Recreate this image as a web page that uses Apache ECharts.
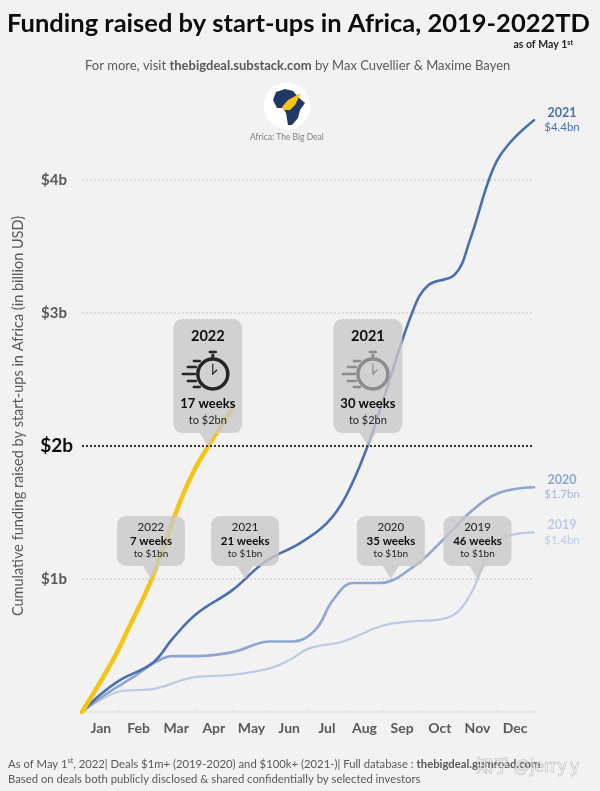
<!DOCTYPE html>
<html>
<head>
<meta charset="utf-8">
<script src="https://cdn.jsdelivr.net/npm/echarts@6/dist/echarts.min.js"></script>
<style>
html, body { margin: 0; padding: 0; background: #f2f2f2; }
#container { width: 600px; height: 791px; }
</style>
</head>
<body>
<div id="container"></div>
<script>
let months = ['Jan', 'Feb', 'Mar', 'Apr', 'May', 'Jun', 'Jul', 'Aug', 'Sep', 'Oct', 'Nov', 'Dec'];
let yTicks = { 1: '$1b', 2: '$2b', 3: '$3b', 4: '$4b' };

// x is in months since Jan 1st, y in billion USD
let x2019 = [0, .48, 1.09, 1.81, 2.95, 4.01, 4.99, 5.5, 6.05, 6.93, 7.99, 8.71, 9.58, 10, 10.38, 10.75, 11.18, 12];
let y2019 = [0, .09, .16, .17, .26, .28, .33, .39, .48, .53, .65, .68, .7, .76, .92, 1.17, 1.31, 1.35];
let x2020 = [0, .61, 1.35, 1.99, 2.4, 3, 4, 5, 5.6, 6.2, 6.66, 7.2, 7.9, 8.79, 9.5, 10.38, 11.1, 12];
let y2020 = [0, .13, .26, .38, .42, .42, .45, .53, .53, .62, .84, .97, .97, 1.09, 1.27, 1.52, 1.65, 1.69];
let x2021 = [0, .48, 1.01, 1.88, 2.4, 3.05, 4.01, 4.86, 5.79, 6.5, 7, 7.57, 8, 8.79, 9.2, 9.9, 10.3, 10.91, 11.36, 12];
let y2021 = [0, .13, .24, .37, .55, .74, .92, 1.13, 1.27, 1.42, 1.62, 1.99, 2.35, 3.02, 3.21, 3.29, 3.55, 4.08, 4.28, 4.45];
let x2022 = [0, .82, 1.27, 1.85, 2.52, 2.95, 3.4, 4.01];
let y2022 = [0, .39, .65, 1, 1.52, 1.8, 2.02, 2.29];

let bigCallouts = [
    { year: '2022', weeks: '17 weeks', note: 'to $2bn', x: 3.34, y: 2, icon: '#262626' },
    { year: '2021', weeks: '30 weeks', note: 'to $2bn', x: 7.59, y: 2, icon: '#8c8c8c' },
];
let smallCallouts = [
    { year: '2022', weeks: '7 weeks', note: 'to $1bn', x: 1.83, y: 1 },
    { year: '2021', weeks: '21 weeks', note: 'to $1bn', x: 4.33, y: 1 },
    { year: '2020', weeks: '35 weeks', note: 'to $1bn', x: 8.2, y: 1 },
    { year: '2019', weeks: '46 weeks', note: 'to $1bn', x: 10.5, y: 1 },
];

let font = 'Lato';
let grey = '#595959';
let boxFill = 'rgba(200,200,200,0.8)';

function zip(xs, ys) {
    return xs.map((x, i) => [x, ys[i]]);
}

function lineSeries(name, xs, ys, color, width, total, nameColor, valueColor) {
    return {
        name: name,
        type: 'line',
        xAxisIndex: 0,
        smooth: 0.4,
        showSymbol: false,
        symbol: 'none',
        animation: false,
        lineStyle: { color: color, width: width, cap: 'round' },
        data: zip(xs, ys),
        endLabel: total ? {
            show: true,
            distance: 11,
            formatter: '{a|' + name + '}\n{b|' + total + '}',
            rich: {
                a: { fontFamily: font, fontWeight: 'bold', fontSize: 12.5, color: nameColor, width: 34, align: 'center', lineHeight: 15 },
                b: { fontFamily: font, fontSize: 11.5, color: valueColor, width: 34, align: 'center', lineHeight: 15 },
            },
        } : { show: false },
    };
}

let chart = echarts.init(document.getElementById('container'));

let series = [
    lineSeries('2019', x2019, y2019, '#bccbe5', 2.2, '$1.4bn', '#bccbe5', '#bccbe5'),
    lineSeries('2020', x2020, y2020, '#8fa6d1', 2.6, '$1.7bn', '#8fa6d1', '#a3b5d8'),
    lineSeries('2021', x2021, y2021, '#4a6fae', 2.6, '$4.4bn', '#4a6fae', '#4a6fae'),
    lineSeries('2022', x2022, y2022, '#f6c416', 4.5),
];
series[3].markLine = {
    silent: true,
    symbol: 'none',
    animation: false,
    label: { show: false },
    lineStyle: { color: '#333333', type: [2, 2], width: 2 },
    data: [{ yAxis: 2 }],
};

let option = {
    backgroundColor: '#f2f2f2',
    title: [
        {
            text: 'Funding raised by start-ups in Africa, 2019-2022TD',
            left: 7, top: 11, padding: 0,
            textStyle: { fontFamily: font, fontWeight: 'bold', fontSize: 25.5, color: '#0d0d0d' },
        },
        {
            text: 'as of May 1{s|st}',
            right: 27, top: 39, padding: 0,
            textStyle: {
                fontFamily: font, fontWeight: 'bold', fontSize: 10.5, color: '#262626',
                rich: { s: { fontSize: 7, fontWeight: 'bold', fontFamily: font, verticalAlign: 'top', color: '#262626' } },
            },
        },
        {
            text: 'For more, visit {b|thebigdeal.substack.com} by Max Cuvellier & Maxime Bayen',
            left: 85, top: 59, padding: 0,
            textStyle: {
                fontFamily: font, fontSize: 13, fontWeight: 'normal', color: grey,
                rich: { b: { fontFamily: font, fontSize: 13, fontWeight: 'bold', color: grey } },
            },
        },
        {
            text: 'Africa: The Big Deal',
            left: 250, top: 133, padding: 0,
            textStyle: { fontFamily: font, fontSize: 8.5, fontWeight: 'normal', color: '#7f7f7f' },
        },
        {
            text: 'As of May 1{s|st}, 2022| Deals $1m+ (2019-2020) and $100k+ (2021-)| Full database : {b|thebigdeal.gumroad.com}\n{n|Based on deals both publicly disclosed & shared confidentially by selected investors}',
            left: 8, top: 757, padding: 0,
            textStyle: {
                fontFamily: font, fontSize: 11.3, fontWeight: 'normal', color: grey, lineHeight: 15,
                rich: {
                    s: { fontSize: 7, fontFamily: font, verticalAlign: 'top', color: grey },
                    b: { fontSize: 11.3, fontFamily: font, fontWeight: 'bold', color: grey },
                    n: { fontSize: 11.3, fontFamily: font, color: grey, lineHeight: 15 },
                },
            },
        },
    ],
    grid: { left: 82, right: 66, top: 47, bottom: 79 },
    xAxis: [
        {
            type: 'value',
            min: 0,
            max: 12,
            interval: 1,
            position: 'bottom',
            splitLine: { show: false },
            axisLabel: { show: false },
            axisLine: { show: true, lineStyle: { color: '#e3e3e3', width: 1.5 } },
            axisTick: { show: true, inside: true, length: 3, lineStyle: { color: '#e3e3e3' } },
        },
        {
            type: 'category',
            position: 'bottom',
            data: months,
            axisLine: { show: false },
            axisTick: { show: false },
            axisLabel: { interval: 0, margin: 9, fontFamily: font, fontWeight: 'bold', fontSize: 14, color: grey },
        },
    ],
    yAxis: {
        type: 'value',
        min: 0,
        max: 5,
        interval: 1,
        axisLine: { show: false },
        axisTick: { show: false },
        splitLine: {
            show: true,
            showMinLine: false,
            showMaxLine: false,
            lineStyle: { color: '#d4d4d4', type: [2, 2], width: 1.5 },
        },
        axisLabel: {
            margin: 9,
            showMinLabel: false,
            showMaxLabel: false,
            formatter: function (value) {
                if (value == 2) return '{big|' + yTicks[value] + '}';
                return yTicks[value] ? '{tick|' + yTicks[value] + '}' : '';
            },
            rich: {
                tick: { fontFamily: font, fontWeight: 'bold', fontSize: 15, color: grey, padding: [0, 6, 0, 0] },
                big: { fontFamily: font, fontWeight: 'bold', fontSize: 19, color: '#0d0d0d' },
            },
        },
    },
    series: series,
};
chart.setOption(option);

// annotations go on top of the lines, anchored on the chart's own scale
function text(x, y, str, size, bold, color) {
    return {
        type: 'text', z: 110, x: x, y: y,
        style: {
            text: str, align: 'center', verticalAlign: 'middle',
            font: (bold ? 'bold ' : '') + size + 'px ' + font,
            fill: color || '#0d0d0d',
        },
    };
}

function box(cx, tipY, width, height, gap, side) {
    let bottom = tipY - gap;
    return [
        {
            type: 'rect', z: 100,
            shape: { x: cx - width / 2, y: bottom - height, width: width, height: height, r: 9 },
            style: { fill: boxFill },
        },
        {
            type: 'polygon', z: 100,
            shape: { points: [[cx - side, bottom], [cx + side, bottom], [cx, tipY]] },
            style: { fill: boxFill },
        },
    ];
}

function stopwatch(cx, cy, color) {
    let line = (x1, y1, x2, y2, w) => ({
        type: 'line', z: 105,
        shape: { x1: x1, y1: y1, x2: x2, y2: y2 },
        style: { stroke: color, lineWidth: w, lineCap: 'round' },
    });
    return [
        { type: 'circle', z: 105, shape: { cx: cx + 5, cy: cy, r: 15 }, style: { fill: 'none', stroke: color, lineWidth: 3.5 } },
        line(cx + 5, cy - 19, cx + 5, cy - 16, 3),
        line(cx + 2, cy - 22, cx + 8, cy - 22, 2.5),
        line(cx + 5, cy, cx + 5, cy - 10, 1.2),
        line(cx + 5, cy, cx + 9, cy - 4, 1.2),
        line(cx - 14, cy - 13, cx - 8, cy - 13, 2.5),
        line(cx - 20, cy - 7, cx - 12, cy - 7, 2.5),
        line(cx - 25, cy, cx - 13, cy, 2.5),
        line(cx - 20, cy + 7, cx - 12, cy + 7, 2.5),
        line(cx - 14, cy + 13, cx - 8, cy + 13, 2.5),
    ];
}

function logo(cx, cy) {
    let africa = [[-14, -6], [-11, -14], [-2, -17], [6, -15], [11, -9], [18, -3], [13, 4], [11, 12], [5, 19], [1, 19], [-1, 7], [-4, 2], [-10, 2]];
    let rocket = [[14, -13], [8, -1], [3, 4], [-4, 4], [-5, 1], [1, -6]];
    return [
        { type: 'circle', z: 50, shape: { cx: cx, cy: cy, r: 23.5 }, style: { fill: '#ffffff' } },
        { type: 'polygon', z: 51, x: cx, y: cy, shape: { points: africa }, style: { fill: '#1f3864' } },
        { type: 'polygon', z: 52, x: cx, y: cy, shape: { points: rocket }, style: { fill: '#f6c416' } },
    ];
}

let elements = logo(287, 106);

bigCallouts.forEach(c => {
    let [px, py] = chart.convertToPixel({ xAxisIndex: 0, yAxisIndex: 0 }, [c.x, c.y]);
    let top = py - 127;
    elements = elements.concat(
        box(px, py, 69, 114, 13, 8),
        stopwatch(px, top + 55, c.icon),
        [
            text(px, top + 17, c.year, 14.5, true),
            text(px, top + 85, c.weeks, 13, true),
            text(px, top + 101, c.note, 11, false, '#262626'),
        ]
    );
});

smallCallouts.forEach(c => {
    let [px, py] = chart.convertToPixel({ xAxisIndex: 0, yAxisIndex: 0 }, [c.x, c.y]);
    let top = py - 63;
    elements = elements.concat(
        box(px, py, 68, 50, 13, 8),
        [
            text(px, top + 11, c.year, 11.5, false, '#1a1a1a'),
            text(px, top + 25, c.weeks, 11.5, true),
            text(px, top + 38, c.note, 10, false, '#262626'),
        ]
    );
});

elements.push({
    type: 'text', z: 60, x: 18, y: 416, rotation: Math.PI / 2,
    style: {
        text: 'Cumulative funding raised by start-ups in Africa (in billion USD)',
        align: 'center', verticalAlign: 'middle',
        font: '14.5px ' + font, fill: grey,
    },
});
// watermark over the footer
elements.push({
    type: 'text', z: 120, x: 476, y: 766,
    style: {
        text: '知乎 @jerry y', align: 'left', verticalAlign: 'middle',
        font: '17px "Noto Sans CJK SC"',
        fill: 'rgba(255,255,255,0.6)', stroke: 'rgba(110,110,110,0.55)', lineWidth: 0.7,
    },
});

chart.setOption({ graphic: { elements: elements } });
</script>
</body>
</html>
